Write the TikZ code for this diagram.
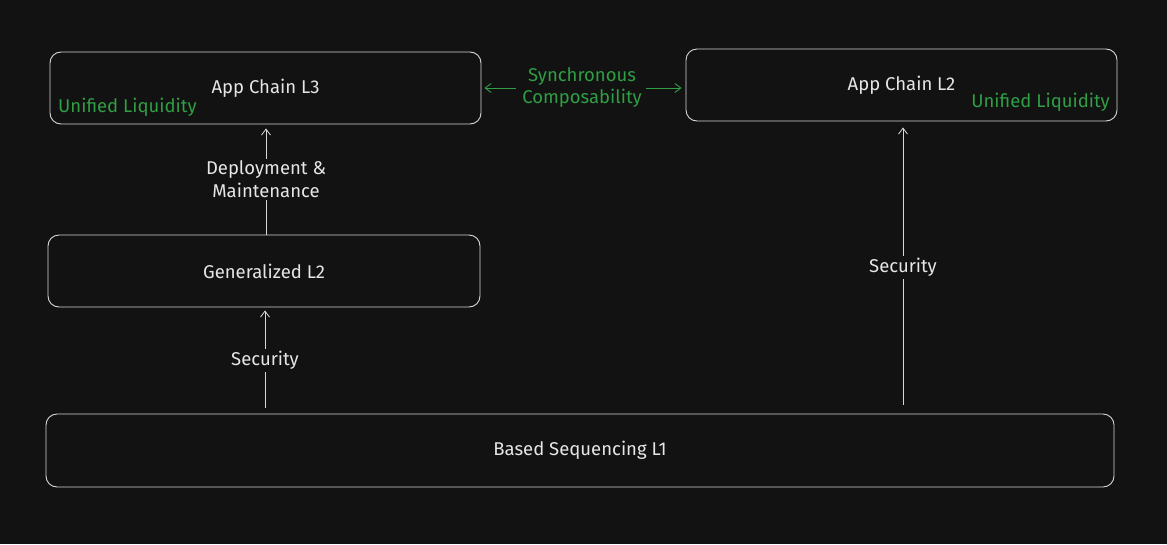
\documentclass[tikz,border=0pt]{standalone}
\usepackage{fontspec}
\setmainfont{Fira Sans}
\usetikzlibrary{arrows.meta}
\definecolor{bg}{HTML}{121212}
\definecolor{stroke}{HTML}{D8D8D8}
\definecolor{txt}{HTML}{E6E6E6}
\definecolor{grn}{HTML}{2F9E44}
\tikzset{
  x=1pt,y=-1pt,
  chainbox/.style={draw=stroke,line width=0.9pt,rounded corners=11pt,fill=bg,text=txt,font=\fontsize{18.5}{22}\selectfont},
  lbl/.style={fill=bg,text=txt,font=\fontsize{18.5}{23}\selectfont,align=center,inner sep=2pt},
  glbl/.style={text=grn,font=\fontsize{18.5}{22}\selectfont,align=center,inner sep=2pt},
  uparrow/.style={draw=stroke,line width=0.8pt,-{Straight Barb[length=6pt,width=9pt]}},
  garrow/.style={draw=grn,line width=0.9pt,-{Straight Barb[length=6pt,width=9pt]}},
}
\begin{document}
\begin{tikzpicture}
\fill[bg] (0,0) rectangle (1167,544);
\useasboundingbox (0,0) rectangle (1167,544);
% boxes
\node[chainbox,minimum width=431pt,minimum height=72pt] (l3) at (265.5,88) {App Chain L3};
\node[chainbox,minimum width=431pt,minimum height=72pt] (a2) at (901.5,85) {App Chain L2};
\node[chainbox,minimum width=432pt,minimum height=72pt] (g2) at (264,271) {Generalized L2};
\node[chainbox,minimum width=1068pt,minimum height=73pt] (l1) at (580,450.5) {Based Sequencing L1};
% unified liquidity labels
\node[glbl,anchor=west] (ul3) at (56,107) {Unified Liquidity};
\node[glbl,anchor=east] (ul2) at (1112,102) {Unified Liquidity};
% synchronous composability
\node[glbl] (sync) at (582,88) {Synchronous\\Composability};
\draw[garrow,shorten >=3pt,shorten <=4pt] (sync.west) -- (l3.east |- sync.west);
\draw[garrow,shorten >=4pt,shorten <=2pt] (sync.east) -- (a2.west |- sync.east);
% vertical arrows
\draw[uparrow,shorten >=4pt] (g2.north -| 266,0) -- node[lbl] (dm) {Deployment \&\\Maintenance} (l3.south -| 266,0);
\draw[uparrow,shorten >=3pt,shorten <=6pt] (l1.north -| 265,0) -- node[lbl] (s1) {Security} (g2.south -| 265,0);
\draw[uparrow,shorten >=6pt,shorten <=9pt] (l1.north -| 903,0) -- node[lbl] (s2) {Security} (a2.south -| 903,0);
\end{tikzpicture}
\end{document}
